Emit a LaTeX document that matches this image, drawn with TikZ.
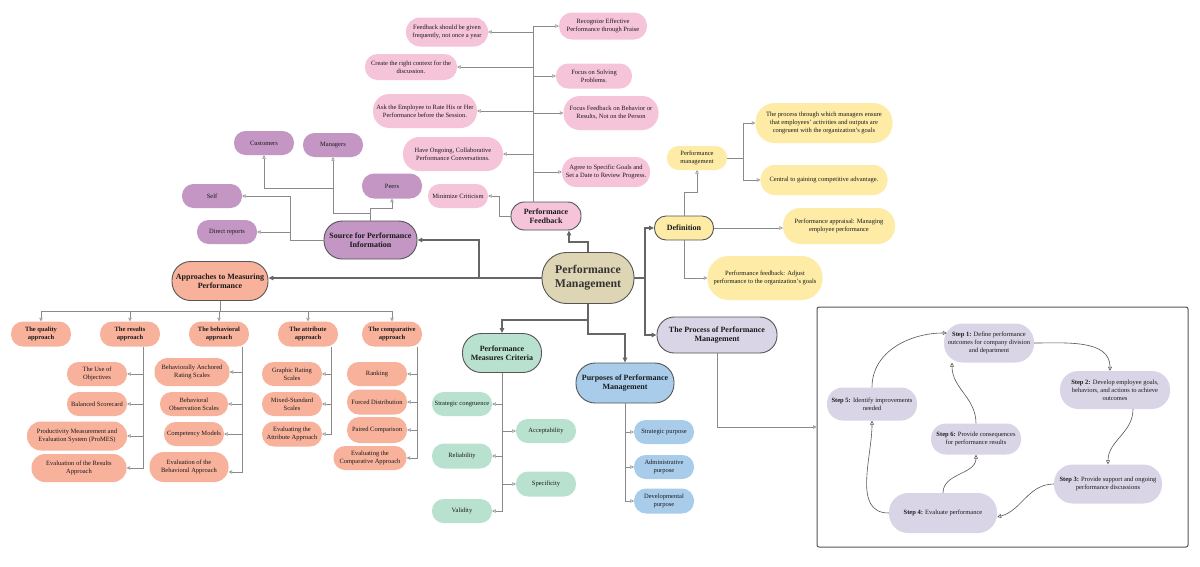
\documentclass[tikz,border=0pt]{standalone}
\usepackage{fontspec}
\setmainfont{Liberation Serif}
\usetikzlibrary{arrows.meta}
\definecolor{cpink}{HTML}{F6C4D9}
\definecolor{cpurple}{HTML}{C396C4}
\definecolor{csalmon}{HTML}{F8B19B}
\definecolor{cmint}{HTML}{B9E1D0}
\definecolor{cblue}{HTML}{A9CCEA}
\definecolor{cyellow}{HTML}{FDEBA6}
\definecolor{clav}{HTML}{D9D5E6}
\definecolor{cbeige}{HTML}{DDD5B4}
\definecolor{bord}{HTML}{555555}
\definecolor{dgray}{HTML}{666666}
\definecolor{lgray}{HTML}{8A8A8A}
\definecolor{txt}{HTML}{1A1A1A}
\begin{document}
\begin{tikzpicture}[x=1pt,y=-1pt,
  pill/.style 2 args={draw=none, minimum width=#1pt, minimum height=#2pt,
    rounded corners=0.48*#2pt, inner sep=0pt, align=center,
    font=\fontsize{6.5}{7.8}\selectfont, text=txt},
  mainnode/.style={draw=bord, line width=0.9pt, font=\bfseries\fontsize{8}{9.3}\selectfont},
  boldsmall/.style={font=\bfseries\fontsize{6.5}{7.8}\selectfont},
  pk/.style={fill=cpink}, pu/.style={fill=cpurple}, sa/.style={fill=csalmon},
  mi/.style={fill=cmint}, bl/.style={fill=cblue}, ye/.style={fill=cyellow},
  la/.style={fill=clav},
  larrow/.style={draw=lgray, line width=0.6pt, -{Triangle[open,length=3.5pt,width=3.5pt]}},
  sarrow/.style={draw=bord, line width=0.6pt, -{Triangle[open,length=4pt,width=4pt]}},
  marrow/.style={draw=dgray, line width=1.2pt, -{Triangle[length=5pt,width=4.5pt]}}
]
\useasboundingbox[fill=white] (0,0) rectangle (1200,566);

% ---------- Performance Feedback cluster ----------
\node[pill={82}{29},pk] (f1) at (447,32) {Feedback should be given\\frequently, not once a year};
\node[pill={88}{27},pk] (f2) at (603,26) {Recognize Effective\\Performance through Praise};
\node[pill={92}{26},pk] (f3) at (411,67) {Create the right context for the\\discussion.};
\node[pill={76}{25},pk] (f4) at (594,76) {Focus on Solving\\Problems.};
\node[pill={104}{34},pk] (f5) at (425,111) {Ask the Employee to Rate His or Her\\Performance before the Session.};
\node[pill={95}{34},pk] (f6) at (611,113) {Focus Feedback on Behavior or\\Results, Not on the Person};
\node[pill={100}{34},pk] (f7) at (453,154) {Have Ongoing, Collaborative\\Performance Conversations.};
\node[pill={88}{30},pk] (f8) at (606,172) {Agree to Specific Goals and\\Set a Date to Review Progress.};
\node[pill={60}{24},pk] (mc) at (458,196) {Minimize Criticism};
\node[pill={70}{28},pk,mainnode] (fb) at (546,216) {Performance\\Feedback};

\coordinate (fbt) at (533,0);
\draw[larrow] (fb.north -| fbt) |- (f2.west);
\draw[larrow] (fbt |- f1.east) -- (f1.east);
\draw[larrow] (fbt |- f3.east) -- (f3.east);
\draw[larrow] (fbt |- f4.west) -- (f4.west);
\draw[larrow] (fbt |- f5.east) -- (f5.east);
\draw[larrow] (fbt |- f6.west) -- (f6.west);
\draw[larrow] (fbt |- f7.east) -- (f7.east);
\draw[larrow] (fbt |- f8.west) -- (f8.west);
\draw[larrow] (fb.west) -- ++(-11,0) |- (mc.east);

% ---------- Source cluster ----------
\node[pill={60}{24},pu] (cust) at (264,143) {Customers};
\node[pill={60}{24},pu] (mgr) at (333,145) {Managers};
\node[pill={60}{25},pu] (peers) at (392,186) {Peers};
\node[pill={60}{24},pu] (self) at (212,196) {Self};
\node[pill={60}{24},pu] (dr) at (227,232) {Direct reports};
\node[pill={93}{38},pu,mainnode] (src) at (370.5,240) {Source for Performance\\Information};

\coordinate (sl) at (290,0);
\draw[larrow] (src.west) -| (sl |- self.east) -- (self.east);
\draw[larrow] (sl |- dr.east) -- (dr.east);
\coordinate (s1) at (333,213);
\coordinate (s2) at (333,188);
\draw[larrow] (src.north) |- (s1) -- (mgr.south);
\draw[larrow] (s2) -| (cust.south);
\draw[larrow] (src.north) -- ++(0,-12) -| (peers.south);

% ---------- Approaches cluster ----------
\node[pill={96}{39},sa,mainnode] (ap) at (220,281) {Approaches to Measuring\\Performance};
\node[pill={60}{25},sa,boldsmall] (qa) at (41,334) {The quality\\approach};
\node[pill={60}{25},sa,boldsmall] (ra) at (130,334) {The results\\approach};
\node[pill={60}{25},sa,boldsmall] (ba) at (219,334) {The behavioral\\approach};
\node[pill={60}{25},sa,boldsmall] (ata) at (308,334) {The attribute\\approach};
\node[pill={60}{25},sa,boldsmall] (ca) at (392,334) {The comparative\\approach};

\coordinate (a0) at (219,311);
\draw[larrow] (ap.south) -- (ap.south |- a0) -| (qa.north);
\draw[larrow] (a0) -| (ra.north);
\draw[larrow] (a0) -- (ba.north);
\draw[larrow] (a0) -| (ata.north);
\draw[larrow] (a0) -| (ca.north);

\node[pill={60}{24},sa] (r1) at (97,374) {The Use of\\Objectives};
\node[pill={60}{24},sa] (r2) at (97,404) {Balanced Scorecard};
\node[pill={100}{29},sa] (r3) at (77,436) {Productivity Measurement and\\Evaluation System (ProMES)};
\node[pill={95}{28},sa] (r4) at (79,468) {Evaluation of the Results\\Approach};

\node[pill={75}{28},sa] (b1) at (192,372) {Behaviorally Anchored\\Rating Scales};
\node[pill={68}{24},sa] (b2) at (194,404) {Behavioral\\Observation Scales};
\node[pill={60}{24},sa] (b3) at (194,434) {Competency Models};
\node[pill={79}{30},sa] (b4) at (189,467) {Evaluation of the\\Behavioral Approach};

\node[pill={60}{24},sa] (t1) at (292,374) {Graphic Rating\\Scales};
\node[pill={60}{24},sa] (t2) at (292,404) {Mixed-Standard\\Scales};
\node[pill={60}{25},sa] (t3) at (292,434) {Evaluating the\\Attribute Approach};

\node[pill={60}{24},sa] (c1) at (377,374) {Ranking};
\node[pill={60}{25},sa] (c2) at (377,402) {Forced Distribution};
\node[pill={60}{26},sa] (c3) at (377,430) {Paired Comparison};
\node[pill={73}{24},sa] (c4) at (370,458) {Evaluating the\\Comparative Approach};

\coordinate (rt) at ([xshift=13pt]ra.south);
\draw[larrow] (rt) |- (r4.east);
\draw[larrow] (rt |- r1.east) -- (r1.east);
\draw[larrow] (rt |- r2.east) -- (r2.east);
\draw[larrow] (rt |- r3.east) -- (r3.east);

\coordinate (bt) at ([xshift=23pt]ba.south);
\draw[larrow] (bt) |- ([yshift=-5pt]b4.east);
\draw[larrow] (bt |- b1.east) -- (b1.east);
\draw[larrow] (bt |- b2.east) -- (b2.east);
\draw[larrow] (bt |- b3.east) -- (b3.east);

\coordinate (tt) at ([xshift=23pt]ata.south);
\draw[larrow] (tt) |- (t3.east);
\draw[larrow] (tt |- t1.east) -- (t1.east);
\draw[larrow] (tt |- t2.east) -- (t2.east);

\coordinate (ct) at ([xshift=25pt]ca.south);
\draw[larrow] (ct) |- (c4.east);
\draw[larrow] (ct |- c1.east) -- (c1.east);
\draw[larrow] (ct |- c2.east) -- (c2.east);
\draw[larrow] (ct |- c3.east) -- (c3.east);

% ---------- Center ----------
\node[pill={92}{51},fill=cbeige,draw=bord,line width=0.9pt,
      font=\bfseries\fontsize{11.8}{14}\selectfont,text=black!80] (pm) at (588,278) {Performance\\Management};

% ---------- Measures & Purposes ----------
\node[pill={79}{39},mi,mainnode] (meas) at (502,353) {Performance\\Measures Criteria};
\node[pill={60}{24},mi] (sc) at (462,404) {Strategic congruence};
\node[pill={60}{24},mi] (acc) at (546,431) {Acceptability};
\node[pill={60}{25},mi] (rel) at (462,456) {Reliability};
\node[pill={60}{25},mi] (spe) at (546,484) {Specificity};
\node[pill={60}{24},mi] (val) at (462,511) {Validity};
\draw[larrow] (meas.south) |- (val.east);
\draw[larrow] (meas.south |- sc.east) -- (sc.east);
\draw[larrow] (meas.south |- acc.west) -- (acc.west);
\draw[larrow] (meas.south |- rel.east) -- (rel.east);
\draw[larrow] (meas.south |- spe.west) -- (spe.west);

\node[pill={98}{40},bl,mainnode] (purp) at (625,383) {Purposes of Performance\\Management};
\node[pill={60}{24},bl] (p1) at (664,432) {Strategic purpose};
\node[pill={60}{24},bl] (p2) at (664,467) {Administrative\\purpose};
\node[pill={60}{25},bl] (p3) at (664,501) {Developmental\\purpose};
\draw[larrow] (purp.south) |- (p3.west);
\draw[larrow] (purp.south |- p1.west) -- (p1.west);
\draw[larrow] (purp.south |- p2.west) -- (p2.west);

% ---------- Definition ----------
\node[pill={59}{24},ye,mainnode] (def) at (684,228) {Definition};
\node[pill={60}{24},ye] (pmg) at (697,158) {Performance\\management};
\node[pill={137}{40},ye] (dp) at (824,123) {The process through which managers ensure\\that employees’ activities and outputs are\\congruent with the organization’s goals};
\node[pill={127}{30},ye] (cent) at (824,180) {Central to gaining competitive advantage.};
\node[pill={112}{36},ye] (appr) at (839,226) {Performance appraisal: Managing\\employee performance};
\node[pill={115}{44},ye] (pfb) at (765,278) {Performance feedback: Adjust\\performance to the organization’s goals};
\draw[larrow] (def.north) -- ++(0,-23) -| (pmg.south);
\coordinate (d1) at (743,158);
\draw[larrow] (pmg.east) -- (d1) |- (dp.west);
\draw[larrow] (d1) |- (cent.west);
\draw[larrow] (def.east) -- (def.east -| appr.west);
\draw[larrow] (def.south) |- (pfb.west);

% ---------- Process ----------
\node[pill={120}{36},la,mainnode] (proc) at (717,335) {The Process of Performance\\Management};
\node[draw=bord, line width=1pt, rounded corners=2pt, minimum width=371pt,
      minimum height=240pt, inner sep=0pt] (box) at (1002.5,427) {};
\draw[larrow] (proc.south) |- (box.west);

\node[pill={90}{39},la] (st1) at (989,343) {\textbf{Step 1:} Define performance\\outcomes for company division\\and department};
\node[pill={110}{38},la] (st2) at (1115,390) {\textbf{Step 2:} Develop employee goals,\\behaviors, and actions to achieve\\outcomes};
\node[pill={108}{39},la] (st3) at (1108,484) {\textbf{Step 3:} Provide support and ongoing\\performance discussions};
\node[pill={108}{40},la] (st4) at (943,513) {\textbf{Step 4:} Evaluate performance};
\node[pill={90}{33},la] (st5) at (872,404) {\textbf{Step 5:} Identify improvements\\needed};
\node[pill={90}{31},la] (st6) at (976,439) {\textbf{Step 6:} Provide consequences\\for performance results};

\draw[sarrow] (st1.east) to[out=0,in=90] ([xshift=-5pt]st2.north);
\draw[sarrow] ([xshift=18pt]st2.south) to[out=-90,in=90] (st3.north);
\draw[sarrow] (st3.west) to[out=180,in=15] ([yshift=-4pt]st4.east);
\draw[sarrow] (st4.west) to[out=180,in=-90] (st5.south);
\draw[sarrow] (st4.north) to[out=90,in=-90] (st6.south);
\draw[sarrow] (st6.north) to[out=90,in=-90] ([xshift=-37pt]st1.south);
\draw[sarrow] (st5.north) to[out=90,in=180] ([xshift=3pt,yshift=10pt]st1.west);

% ---------- Main connectors ----------
\draw[marrow] (pm.west) -- (pm.west -| ap.east);
\coordinate (m1) at (479,278);
\draw[marrow] (m1) |- (src.east);
\draw[marrow] (pm.north) -- ++(0,-10) -| ([xshift=23pt]fb.south);
\coordinate (m2) at (645,278);
\draw[marrow] (pm.east) -- (m2) |- (def.west);
\draw[marrow] (m2) |- (proc.west);
\draw[marrow] (pm.south) -- ++(0,16) -| (meas.north);
\draw[marrow] (pm.south) -- ++(0,30) -| (purp.north);
\end{tikzpicture}
\end{document}
